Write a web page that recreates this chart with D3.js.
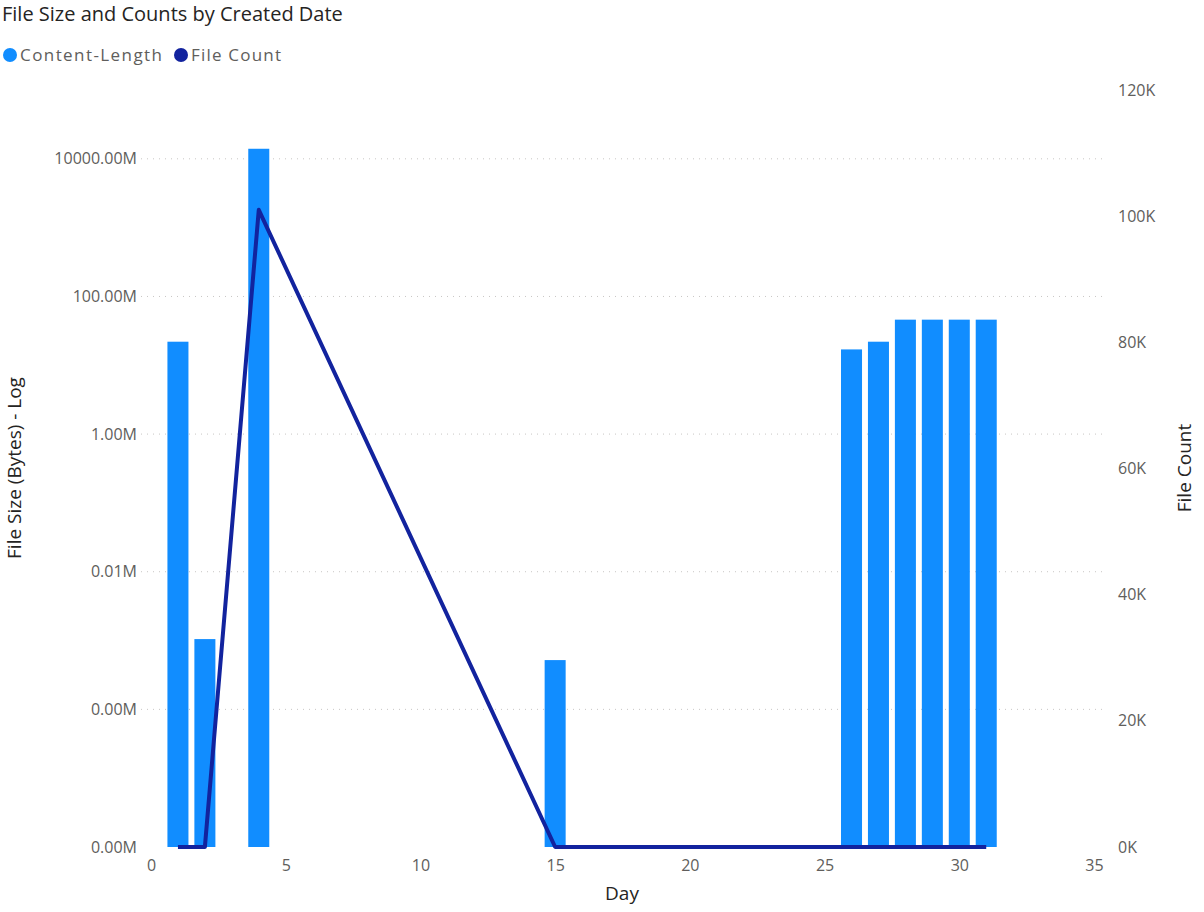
<!DOCTYPE html>
<html><head><meta charset="utf-8">
<script src="https://cdn.jsdelivr.net/npm/d3@7"></script>
<style>body{margin:0;background:#fff}text{font-family:"Segoe UI","Open Sans",sans-serif}</style>
</head><body><svg id="c" width="1204" height="912"></svg>
<script>
const days = [1, 2, 4, 15, 26, 27, 28, 29, 30, 31];
const contentLength = [2.2e7, 1050, 1.4e10, 520, 1.7e7, 2.2e7, 4.6e7, 4.6e7, 4.6e7, 4.6e7];
const fileCount = [0, 0, 101000, 0, 0, 0, 0, 0, 0, 0];
const leftTicks = [1e0, 1e2, 1e4, 1e6, 1e8, 1e10];
const leftTickLabels = ["0.00M", "0.00M", "0.01M", "1.00M", "100.00M", "10000.00M"];
const rightTicks = [0, 20000, 40000, 60000, 80000, 100000, 120000];
const xTicks = [0, 5, 10, 15, 20, 25, 30, 35];

const svg = d3.select("#c");
const L = 151, R = 1094, T = 90, B = 847;
const x = d3.scaleLinear().domain([0, 35]).range([L, R]);
const yL = d3.scaleLog().domain([1, 1e11]).range([B, T]);
const yR = d3.scaleLinear().domain([0, 120000]).range([B, T]);
const bw = (x(1) - x(0)) * 0.78;

svg.append("text").attr("x", 2).attr("y", 21).attr("font-size", 20).attr("fill", "#252423").text("File Size and Counts by Created Date");
const leg = [["Content-Length", "#118DFF", 10, 17], ["File Count", "#12239E", 181, 17]];
leg.forEach(([t, c, lx, fs]) => {
  svg.append("circle").attr("cx", lx).attr("cy", 55).attr("r", 7).attr("fill", c);
  svg.append("text").attr("x", lx + 10).attr("y", 61).attr("font-size", fs).attr("fill", "#605E5C")
    .attr("textLength", t === "Content-Length" ? 142 : 90).text(t);
});

svg.append("g").selectAll("line").data(leftTicks.slice(1)).join("line")
  .attr("x1", L - 10).attr("x2", R + 10).attr("y1", d => yL(d)).attr("y2", d => yL(d))
  .attr("stroke", "#C8C6C4").attr("stroke-dasharray", "1,5");

const gl = svg.append("g").attr("transform", `translate(${L - 14},0)`)
  .call(d3.axisLeft(yL).tickValues(leftTicks).tickFormat((d, i) => leftTickLabels[i]).tickSize(0).tickPadding(0));
const gr = svg.append("g").attr("transform", `translate(${R + 24},0)`)
  .call(d3.axisRight(yR).tickValues(rightTicks).tickFormat(d => d / 1000 + "K").tickSize(0).tickPadding(0));
const gx = svg.append("g").attr("transform", `translate(0,${B + 10})`)
  .call(d3.axisBottom(x).tickValues(xTicks).tickSize(0).tickPadding(0));
[gl, gr, gx].forEach(g => { g.select(".domain").remove(); g.selectAll("text").attr("font-size", 16).attr("fill", "#605E5C"); });
gx.selectAll("text").attr("dy", "0.9em");

svg.selectAll("rect.bar").data(days).join("rect").attr("class", "bar")
  .attr("x", d => x(d) - bw / 2).attr("width", bw)
  .attr("y", (d, i) => yL(contentLength[i])).attr("height", (d, i) => B - yL(contentLength[i]))
  .attr("fill", "#118DFF");

svg.append("path").datum(days.map((d, i) => [d, fileCount[i]]))
  .attr("d", d3.line().x(d => x(d[0])).y(d => yR(d[1])))
  .attr("fill", "none").attr("stroke", "#12239E").attr("stroke-width", 4).attr("stroke-linejoin", "round");

svg.append("text").attr("x", 622).attr("y", 900).attr("text-anchor", "middle").attr("font-size", 19).attr("fill", "#252423").text("Day");
svg.append("text").attr("transform", "translate(21,468) rotate(-90)").attr("text-anchor", "middle").attr("font-size", 19).attr("fill", "#252423").text("File Size (Bytes) - Log");
svg.append("text").attr("transform", "translate(1191,468) rotate(-90)").attr("text-anchor", "middle").attr("font-size", 19).attr("fill", "#252423").text("File Count");
</script></body></html>
